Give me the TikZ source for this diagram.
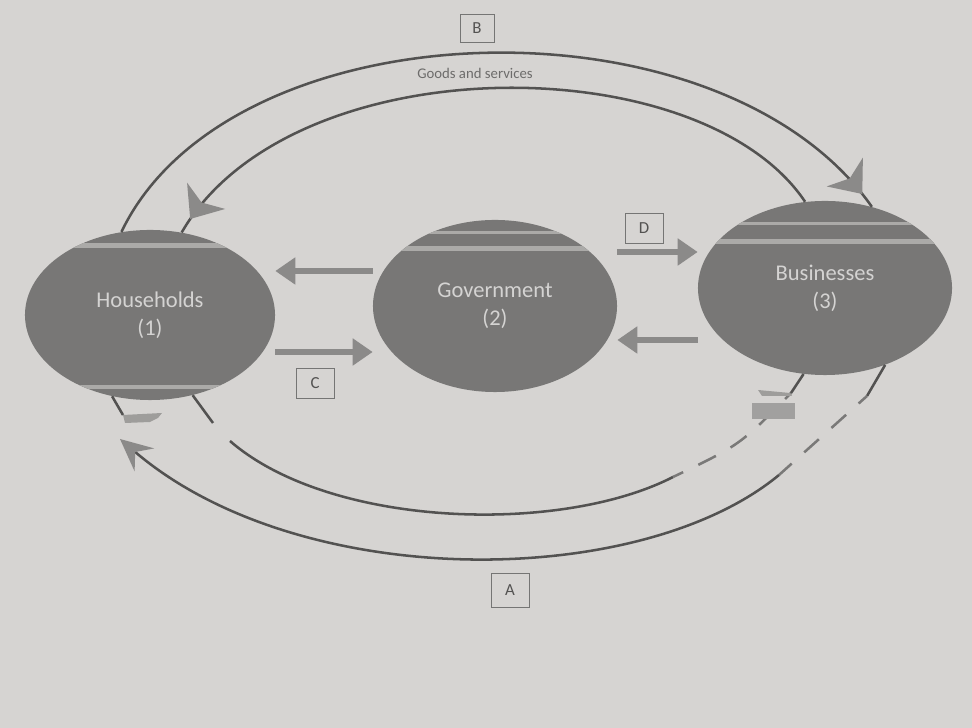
\documentclass[tikz,border=0pt]{standalone}
\usepackage{fontspec}
\setmainfont{Carlito}
\usetikzlibrary{shapes.geometric,arrows.meta,decorations.markings}
\definecolor{paper}{HTML}{D6D4D2}
\definecolor{blob}{HTML}{787776}
\definecolor{band}{HTML}{ABAAA8}
\definecolor{ink}{HTML}{535251}
\definecolor{flow}{HTML}{8B8A89}
\definecolor{lettering}{HTML}{D4D3D2}
\tikzset{
  sector/.style={ellipse, fill=blob, text=lettering, align=center, inner sep=0pt, font=\fontsize{16}{20}\selectfont},
  tag/.style={draw=ink!80, line width=0.6pt, minimum width=0.95cm, minimum height=0.75cm, inner sep=0pt, text=ink, font=\large},
  flowline/.style={line width=1.8pt, draw=ink},
  faded/.style={flowline, draw=ink!70!paper, dash pattern=on 14pt off 12pt, dash phase=6pt},
  bighead/.style={-{Stealth[length=0.8cm, width=0.75cm, inset=0.3cm, color=flow]}},
  midhead/.style={postaction={decorate}, decoration={markings, mark=at position -0.4cm with {\arrow{Stealth[length=0.7cm, width=1.15cm, inset=0.2cm, color=flow]}}}},
  transfer/.style={line width=4.5pt, draw=flow, -{Triangle[length=0.5cm, width=0.65cm]}}
}
\begin{document}
\begin{tikzpicture}[x=0.025cm, y=0.025cm]
  \useasboundingbox (0,0) rectangle (972,728);
  \fill[paper] (0,0) rectangle (972,728);

  \node[sector, minimum width=6.25cm, minimum height=4.25cm] (hh) at (150,413) {Households\\(1)};
  \node[sector, minimum width=6.1cm, minimum height=4.3cm] (gov) at (495,422) {Government\\(2)};
  \node[sector, minimum width=6.35cm, minimum height=4.35cm] (bus) at (825,440) {Businesses\\(3)};

  \begin{scope}
    \clip (hh.center) ellipse [x radius=125, y radius=85];
    \fill[band] (20,485) rectangle (280,480);
    \fill[band] (20,343) rectangle (280,339);
  \end{scope}
  \begin{scope}
    \clip (gov.center) ellipse [x radius=122, y radius=86];
    \fill[band] (370,497) rectangle (620,494);
    \fill[band] (370,482) rectangle (620,477);
  \end{scope}
  \begin{scope}
    \clip (bus.center) ellipse [x radius=127, y radius=87];
    \fill[band] (690,506) rectangle (960,503);
    \fill[band] (690,489) rectangle (960,484);
  \end{scope}

  \draw[transfer] (gov.west |- 0,457) -- (hh.east |- 0,457);
  \draw[transfer] (hh.east |- 0,376) -- (gov.west |- 0,376);
  \draw[transfer] (gov.east |- 0,476) -- (bus.west |- 0,476);
  \draw[transfer] (bus.west |- 0,388) -- (gov.east |- 0,388);

  \draw[flowline, midhead] (hh.109) .. controls (230,723) and (720,738) .. (bus.60);
  \draw[flowline, midhead] (bus.103) .. controls (700,683) and (290,683) .. (hh.69);

  \coordinate (ia) at (213,305);
  \coordinate (ib) at (230,287);
  \coordinate (ic) at (673,251);
  \coordinate (id) at (791,335);
  \coordinate (oa) at (867,332);
  \coordinate (ob) at (779,253);
  \coordinate (oc) at (120,289);
  \coordinate (od) at (123,313);

  \draw[flowline] (hh.-62) -- (ia);
  \draw[flowline] (ib) .. controls (330,200) and (560,193) .. (ic);
  \draw[faded] (ic) .. controls (740,283) .. (id);
  \draw[flowline] (id) -- (bus.-104);

  \draw[flowline] (bus.-52) -- (oa);
  \draw[faded] (oa) -- (ob);
  \draw[flowline, bighead] (ob) .. controls (640,138) and (300,135) .. (oc);
  \draw[flowline] (od) -- (hh.-115);

  \fill[flow!75!paper] (123,313) -- (162,315) -- (158,310) -- (150,306) -- (125,305) -- cycle;
  \fill[flow!75!paper] (758,338) -- (790,335) -- (792,332) -- (762,332) -- cycle;
  \fill[flow!70!paper] (752,325) rectangle (795,309);

  \node[tag, minimum width=0.85cm, minimum height=0.7cm] (b) at (477,700) {B};
  \node[tag] (d) at (644,500) {D};
  \node[tag] (c) at (315,345) {C};
  \node[tag, minimum height=0.85cm] (a) at (510,138) {A};
  \node[font=\fontsize{10.5}{12}\selectfont, text=ink!85] (goods) at (475,655) {Goods and services};
\end{tikzpicture}
\end{document}
